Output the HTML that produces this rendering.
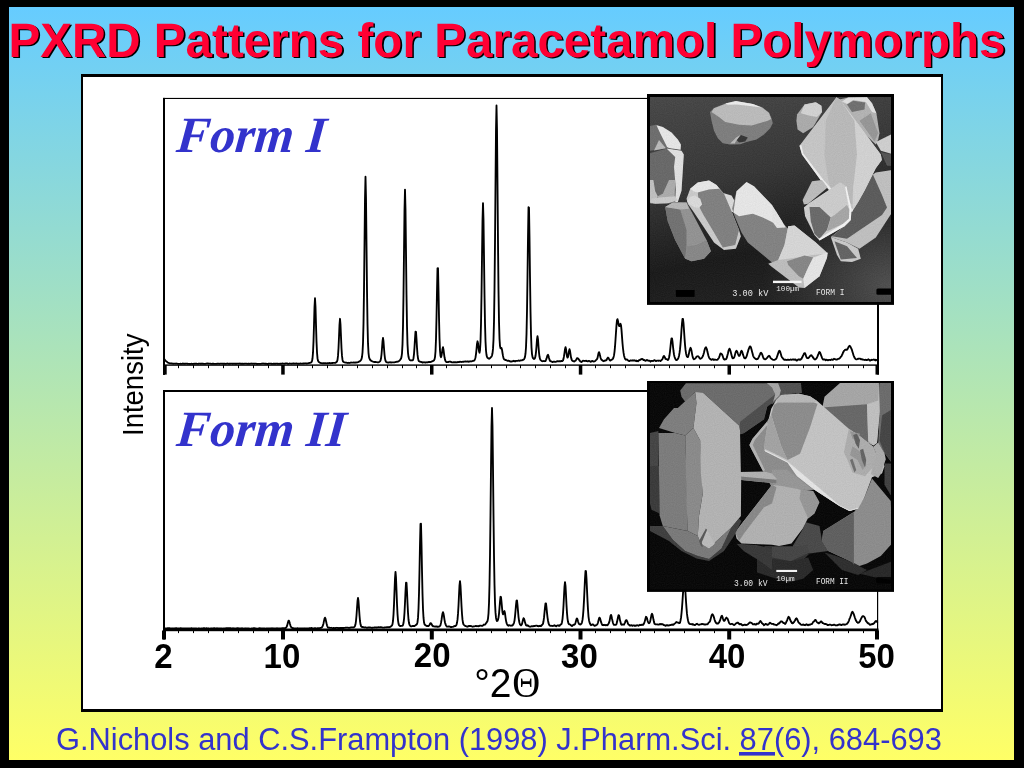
<!DOCTYPE html>
<html lang="en">
<head>
<meta charset="utf-8">
<title>PXRD Patterns for Paracetamol Polymorphs</title>
<style>
html,body{margin:0;padding:0;}
body{width:1024px;height:768px;background:#000;position:relative;overflow:hidden;font-family:"Liberation Sans",sans-serif;}
.slide{position:absolute;left:9px;top:7px;width:1005px;height:753px;background:linear-gradient(to bottom,#66ccff 0%,#ffff66 100%);}
h1{position:absolute;left:8.4px;top:16.6px;margin:0;font:bold 47.6px/1 "Liberation Sans",sans-serif;transform:scaleY(1.015);text-rendering:geometricPrecision;color:#ff0033;text-shadow:1.6px 1.6px 0 #000;white-space:nowrap;transform-origin:0 0;}
.box{position:absolute;left:81px;top:74px;width:862px;height:638px;box-sizing:border-box;border:solid #000;border-width:3px 2px;background:#fff;}
svg.chart{position:absolute;left:0;top:0;}
.cite{position:absolute;left:56px;top:725px;margin:0;white-space:nowrap;font:30.83px/1 "Liberation Sans",sans-serif;color:#3333cc;}
.cite u{text-decoration:none;display:inline-block;padding:0 0.8px;margin:0 -0.8px;background:linear-gradient(#3333cc,#3333cc) no-repeat 0 27.1px / 100% 3.6px;}
</style>
</head>
<body>
<div class="slide"></div>
<h1 id="title">PXRD Patterns for Paracetamol Polymorphs</h1>
<div class="box"></div>
<svg class="chart" width="1024" height="768" viewBox="0 0 1024 768">
<defs>
<clipPath id="c1"><rect x="650" y="97" width="241" height="204.9"/></clipPath>
<filter id="soft" filterUnits="userSpaceOnUse" x="640" y="85" width="262" height="520" color-interpolation-filters="sRGB">
<feGaussianBlur in="SourceGraphic" stdDeviation="0.6" result="b"/>
<feTurbulence type="fractalNoise" baseFrequency="0.9" numOctaves="1" seed="11" result="t"/>
<feColorMatrix in="t" type="matrix" values="1 0 0 0 0  1 0 0 0 0  1 0 0 0 0  0 0 0 0 1" result="tg"/>
<feComposite in="b" in2="tg" operator="arithmetic" k1="0" k2="1" k3="0.07" k4="-0.035"/>
</filter>
<clipPath id="c2"><rect x="650" y="383" width="241" height="206.4"/></clipPath>
</defs>
<g fill="#000">
<!-- plot 1 frame -->
<rect x="163" y="97.9" width="2" height="277"/>
<rect x="163" y="97.9" width="486" height="1.1"/>
<rect x="877" y="300" width="2" height="74.5"/>
<rect x="163" y="364.4" width="716" height="1.4"/>
<rect x="163.2" y="365.0" width="3.5" height="9.6"/>
<rect x="178.0" y="365.0" width="1.0" height="3.2"/>
<rect x="193.0" y="365.0" width="1.0" height="3.2"/>
<rect x="208.0" y="365.0" width="1.0" height="3.2"/>
<rect x="223.0" y="365.0" width="1.0" height="3.2"/>
<rect x="238.0" y="365.0" width="1.0" height="3.2"/>
<rect x="253.0" y="365.0" width="1.0" height="3.2"/>
<rect x="268.0" y="365.0" width="1.0" height="3.2"/>
<rect x="281.2" y="365.0" width="3.5" height="9.6"/>
<rect x="297.0" y="365.0" width="1.0" height="3.2"/>
<rect x="312.0" y="365.0" width="1.0" height="3.2"/>
<rect x="327.0" y="365.0" width="1.0" height="3.2"/>
<rect x="342.0" y="365.0" width="1.0" height="3.2"/>
<rect x="357.0" y="365.0" width="1.0" height="3.2"/>
<rect x="372.0" y="365.0" width="1.0" height="3.2"/>
<rect x="387.0" y="365.0" width="1.0" height="3.2"/>
<rect x="402.0" y="365.0" width="1.0" height="3.2"/>
<rect x="416.0" y="365.0" width="1.0" height="3.2"/>
<rect x="430.0" y="365.0" width="3.5" height="9.6"/>
<rect x="446.0" y="365.0" width="1.0" height="3.2"/>
<rect x="461.0" y="365.0" width="1.0" height="3.2"/>
<rect x="476.0" y="365.0" width="1.0" height="3.2"/>
<rect x="491.0" y="365.0" width="1.0" height="3.2"/>
<rect x="506.0" y="365.0" width="1.0" height="3.2"/>
<rect x="520.0" y="365.0" width="1.0" height="3.2"/>
<rect x="535.0" y="365.0" width="1.0" height="3.2"/>
<rect x="550.0" y="365.0" width="1.0" height="3.2"/>
<rect x="565.0" y="365.0" width="1.0" height="3.2"/>
<rect x="578.8" y="365.0" width="3.5" height="9.6"/>
<rect x="595.0" y="365.0" width="1.0" height="3.2"/>
<rect x="610.0" y="365.0" width="1.0" height="3.2"/>
<rect x="625.0" y="365.0" width="1.0" height="3.2"/>
<rect x="640.0" y="365.0" width="1.0" height="3.2"/>
<rect x="654.0" y="365.0" width="1.0" height="3.2"/>
<rect x="669.0" y="365.0" width="1.0" height="3.2"/>
<rect x="684.0" y="365.0" width="1.0" height="3.2"/>
<rect x="699.0" y="365.0" width="1.0" height="3.2"/>
<rect x="714.0" y="365.0" width="1.0" height="3.2"/>
<rect x="727.5" y="365.0" width="3.5" height="9.6"/>
<rect x="744.0" y="365.0" width="1.0" height="3.2"/>
<rect x="758.0" y="365.0" width="1.0" height="3.2"/>
<rect x="773.0" y="365.0" width="1.0" height="3.2"/>
<rect x="788.0" y="365.0" width="1.0" height="3.2"/>
<rect x="803.0" y="365.0" width="1.0" height="3.2"/>
<rect x="818.0" y="365.0" width="1.0" height="3.2"/>
<rect x="833.0" y="365.0" width="1.0" height="3.2"/>
<rect x="848.0" y="365.0" width="1.0" height="3.2"/>
<rect x="863.0" y="365.0" width="1.0" height="3.2"/>
<rect x="875.5" y="365.0" width="3.5" height="9.6"/>
<!-- plot 2 frame -->
<rect x="163" y="390" width="2" height="249.5"/>
<rect x="163" y="390" width="486" height="2"/>
<rect x="877" y="590" width="1.2" height="49"/>
<rect x="163" y="628.5" width="715.5" height="2.7"/>
<rect x="162.0" y="630.5" width="4.0" height="9.0"/>
<rect x="178.0" y="630.5" width="1.0" height="2.6"/>
<rect x="193.0" y="630.5" width="1.0" height="2.6"/>
<rect x="208.0" y="630.5" width="1.0" height="2.6"/>
<rect x="223.0" y="630.5" width="1.0" height="2.6"/>
<rect x="238.0" y="630.5" width="1.0" height="2.6"/>
<rect x="253.0" y="630.5" width="1.0" height="2.6"/>
<rect x="268.0" y="630.5" width="1.0" height="2.6"/>
<rect x="281.0" y="630.5" width="4.0" height="9.0"/>
<rect x="297.0" y="630.5" width="1.0" height="2.6"/>
<rect x="312.0" y="630.5" width="1.0" height="2.6"/>
<rect x="327.0" y="630.5" width="1.0" height="2.6"/>
<rect x="342.0" y="630.5" width="1.0" height="2.6"/>
<rect x="357.0" y="630.5" width="1.0" height="2.6"/>
<rect x="372.0" y="630.5" width="1.0" height="2.6"/>
<rect x="387.0" y="630.5" width="1.0" height="2.6"/>
<rect x="402.0" y="630.5" width="1.0" height="2.6"/>
<rect x="416.0" y="630.5" width="1.0" height="2.6"/>
<rect x="429.8" y="630.5" width="4.0" height="9.0"/>
<rect x="446.0" y="630.5" width="1.0" height="2.6"/>
<rect x="461.0" y="630.5" width="1.0" height="2.6"/>
<rect x="476.0" y="630.5" width="1.0" height="2.6"/>
<rect x="491.0" y="630.5" width="1.0" height="2.6"/>
<rect x="506.0" y="630.5" width="1.0" height="2.6"/>
<rect x="520.0" y="630.5" width="1.0" height="2.6"/>
<rect x="535.0" y="630.5" width="1.0" height="2.6"/>
<rect x="550.0" y="630.5" width="1.0" height="2.6"/>
<rect x="565.0" y="630.5" width="1.0" height="2.6"/>
<rect x="578.5" y="630.5" width="4.0" height="9.0"/>
<rect x="595.0" y="630.5" width="1.0" height="2.6"/>
<rect x="610.0" y="630.5" width="1.0" height="2.6"/>
<rect x="625.0" y="630.5" width="1.0" height="2.6"/>
<rect x="640.0" y="630.5" width="1.0" height="2.6"/>
<rect x="654.0" y="630.5" width="1.0" height="2.6"/>
<rect x="669.0" y="630.5" width="1.0" height="2.6"/>
<rect x="684.0" y="630.5" width="1.0" height="2.6"/>
<rect x="699.0" y="630.5" width="1.0" height="2.6"/>
<rect x="714.0" y="630.5" width="1.0" height="2.6"/>
<rect x="727.2" y="630.5" width="4.0" height="9.0"/>
<rect x="744.0" y="630.5" width="1.0" height="2.6"/>
<rect x="758.0" y="630.5" width="1.0" height="2.6"/>
<rect x="773.0" y="630.5" width="1.0" height="2.6"/>
<rect x="788.0" y="630.5" width="1.0" height="2.6"/>
<rect x="803.0" y="630.5" width="1.0" height="2.6"/>
<rect x="818.0" y="630.5" width="1.0" height="2.6"/>
<rect x="833.0" y="630.5" width="1.0" height="2.6"/>
<rect x="848.0" y="630.5" width="1.0" height="2.6"/>
<rect x="863.0" y="630.5" width="1.0" height="2.6"/>
<rect x="875.0" y="630.5" width="4.0" height="9.0"/>
</g>
<path d="M164.5 359.1 L165.0 360.0 L165.5 360.7 L166.0 361.2 L166.5 361.5 L167.0 361.9 L167.5 362.3 L168.0 362.6 L168.5 362.8 L169.0 363.0 L169.5 363.3 L170.0 363.3 L170.5 363.4 L171.0 363.3 L171.5 363.4 L172.0 363.5 L172.5 363.6 L173.0 363.7 L173.5 363.7 L174.0 363.6 L174.5 363.6 L175.0 363.6 L175.5 363.7 L176.0 363.5 L176.5 363.6 L177.0 363.6 L177.5 363.8 L178.0 363.8 L178.5 363.9 L179.0 363.9 L179.5 363.8 L180.0 363.8 L180.5 363.7 L181.0 363.8 L181.5 363.9 L182.0 363.8 L182.5 363.6 L183.0 363.5 L183.5 363.7 L184.0 363.7 L184.5 363.8 L185.0 363.7 L185.5 363.7 L186.0 363.6 L186.5 363.6 L187.0 363.7 L187.5 363.7 L188.0 363.8 L188.5 363.8 L189.0 363.9 L189.5 363.9 L190.0 364.0 L190.5 363.9 L191.0 363.8 L191.5 363.7 L192.0 363.8 L192.5 364.0 L193.0 363.9 L193.5 363.8 L194.0 363.7 L194.5 363.8 L195.0 363.7 L195.5 363.7 L196.0 363.6 L196.5 363.6 L197.0 363.8 L197.5 363.8 L198.0 363.8 L198.5 363.7 L199.0 363.7 L199.5 363.6 L200.0 363.6 L200.5 363.8 L201.0 363.7 L201.5 363.7 L202.0 363.5 L202.5 363.7 L203.0 363.6 L203.5 363.8 L204.0 363.8 L204.5 363.9 L205.0 363.9 L205.5 363.8 L206.0 363.7 L206.5 363.6 L207.0 363.5 L207.5 363.6 L208.0 363.5 L208.5 363.6 L209.0 363.6 L209.5 363.6 L210.0 363.6 L210.5 363.6 L211.0 363.8 L211.5 363.8 L212.0 363.9 L212.5 363.7 L213.0 363.7 L213.5 363.7 L214.0 363.8 L214.5 363.8 L215.0 363.8 L215.5 363.8 L216.0 363.8 L216.5 363.8 L217.0 363.7 L217.5 363.7 L218.0 363.6 L218.5 363.7 L219.0 363.8 L219.5 363.8 L220.0 363.6 L220.5 363.6 L221.0 363.6 L221.5 363.6 L222.0 363.6 L222.5 363.7 L223.0 363.7 L223.5 363.7 L224.0 363.6 L224.5 363.8 L225.0 363.7 L225.5 363.8 L226.0 363.8 L226.5 363.7 L227.0 363.6 L227.5 363.5 L228.0 363.7 L228.5 363.8 L229.0 363.7 L229.5 363.7 L230.0 363.7 L230.5 363.7 L231.0 363.6 L231.5 363.6 L232.0 363.7 L232.5 363.7 L233.0 363.7 L233.5 363.7 L234.0 363.6 L234.5 363.7 L235.0 363.7 L235.5 363.7 L236.0 363.7 L236.5 363.7 L237.0 363.7 L237.5 363.6 L238.0 363.6 L238.5 363.7 L239.0 363.6 L239.5 363.6 L240.0 363.5 L240.5 363.7 L241.0 363.7 L241.5 363.8 L242.0 363.7 L242.5 363.7 L243.0 363.6 L243.5 363.8 L244.0 363.8 L244.5 363.7 L245.0 363.6 L245.5 363.6 L246.0 363.6 L246.5 363.7 L247.0 363.8 L247.5 363.8 L248.0 363.7 L248.5 363.7 L249.0 363.7 L249.5 363.9 L250.0 363.8 L250.5 363.7 L251.0 363.5 L251.5 363.6 L252.0 363.7 L252.5 363.7 L253.0 363.6 L253.5 363.6 L254.0 363.6 L254.5 363.8 L255.0 363.7 L255.5 363.6 L256.0 363.6 L256.5 363.8 L257.0 364.0 L257.5 363.9 L258.0 363.9 L258.5 363.9 L259.0 363.8 L259.5 363.8 L260.0 363.8 L260.5 363.9 L261.0 363.8 L261.5 363.7 L262.0 363.6 L262.5 363.6 L263.0 363.5 L263.5 363.6 L264.0 363.6 L264.5 363.7 L265.0 363.6 L265.5 363.8 L266.0 363.7 L266.5 363.9 L267.0 363.9 L267.5 364.0 L268.0 363.9 L268.5 363.7 L269.0 363.7 L269.5 363.6 L270.0 363.6 L270.5 363.6 L271.0 363.7 L271.5 363.7 L272.0 363.8 L272.5 363.8 L273.0 363.8 L273.5 363.6 L274.0 363.7 L274.5 363.7 L275.0 363.8 L275.5 363.7 L276.0 363.7 L276.5 363.6 L277.0 363.7 L277.5 363.7 L278.0 363.7 L278.5 363.8 L279.0 363.9 L279.5 363.9 L280.0 363.7 L280.5 363.7 L281.0 363.7 L281.5 363.7 L282.0 363.6 L282.5 363.5 L283.0 363.6 L283.5 363.6 L284.0 363.7 L284.5 363.7 L285.0 363.6 L285.5 363.5 L286.0 363.4 L286.5 363.4 L287.0 363.4 L287.5 363.6 L288.0 363.8 L288.5 363.8 L289.0 363.7 L289.5 363.5 L290.0 363.6 L290.5 363.6 L291.0 363.6 L291.5 363.7 L292.0 363.7 L292.5 363.6 L293.0 363.5 L293.5 363.5 L294.0 363.5 L294.5 363.6 L295.0 363.7 L295.5 363.6 L296.0 363.5 L296.5 363.5 L297.0 363.6 L297.5 363.7 L298.0 363.7 L298.5 363.7 L299.0 363.7 L299.5 363.7 L300.0 363.6 L300.5 363.5 L301.0 363.6 L301.5 363.6 L302.0 363.6 L302.5 363.6 L303.0 363.5 L303.5 363.4 L304.0 363.5 L304.5 363.4 L305.0 363.4 L305.5 363.3 L306.0 363.4 L306.5 363.5 L307.0 363.5 L307.5 363.4 L308.0 363.3 L308.5 363.2 L309.0 363.1 L309.5 362.8 L310.0 362.8 L310.5 362.6 L311.0 362.5 L311.5 362.1 L312.0 361.1 L312.5 358.5 L313.0 352.7 L313.5 341.6 L314.0 325.0 L314.5 307.0 L315.0 298.2 L315.5 307.1 L316.0 324.9 L316.5 341.4 L317.0 352.3 L317.5 358.2 L318.0 360.7 L318.5 361.7 L319.0 362.2 L319.5 362.4 L320.0 362.8 L320.5 362.9 L321.0 363.1 L321.5 363.2 L322.0 363.3 L322.5 363.3 L323.0 363.1 L323.5 363.2 L324.0 363.2 L324.5 363.3 L325.0 363.2 L325.5 363.2 L326.0 363.3 L326.5 363.3 L327.0 363.2 L327.5 363.1 L328.0 363.3 L328.5 363.2 L329.0 363.1 L329.5 363.0 L330.0 363.1 L330.5 363.2 L331.0 363.2 L331.5 363.1 L332.0 363.0 L332.5 363.0 L333.0 362.9 L333.5 362.8 L334.0 362.8 L334.5 362.9 L335.0 362.8 L335.5 362.8 L336.0 362.4 L336.5 362.1 L337.0 361.5 L337.5 359.9 L338.0 355.9 L338.5 348.3 L339.0 337.0 L339.5 324.9 L340.0 318.8 L340.5 324.7 L341.0 336.8 L341.5 348.3 L342.0 355.9 L342.5 359.7 L343.0 361.4 L343.5 362.0 L344.0 362.2 L344.5 362.3 L345.0 362.5 L345.5 362.6 L346.0 362.6 L346.5 362.7 L347.0 362.9 L347.5 362.9 L348.0 363.0 L348.5 362.8 L349.0 363.0 L349.5 362.9 L350.0 362.9 L350.5 362.7 L351.0 362.5 L351.5 362.6 L352.0 362.6 L352.5 362.6 L353.0 362.6 L353.5 362.5 L354.0 362.6 L354.5 362.5 L355.0 362.7 L355.5 362.5 L356.0 362.6 L356.5 362.3 L357.0 362.3 L357.5 362.3 L358.0 362.2 L358.5 361.9 L359.0 361.6 L359.5 361.4 L360.0 361.1 L360.5 360.6 L361.0 360.0 L361.5 359.0 L362.0 357.0 L362.5 352.6 L363.0 343.1 L363.5 323.7 L364.0 290.5 L364.5 245.0 L365.0 198.7 L365.5 176.7 L366.0 198.3 L366.5 244.4 L367.0 290.1 L367.5 323.6 L368.0 343.4 L368.5 352.8 L369.0 357.0 L369.5 358.7 L370.0 359.7 L370.5 360.3 L371.0 360.7 L371.5 360.9 L372.0 361.2 L372.5 361.5 L373.0 361.7 L373.5 361.8 L374.0 362.0 L374.5 362.0 L375.0 362.0 L375.5 362.0 L376.0 362.1 L376.5 362.1 L377.0 362.2 L377.5 362.3 L378.0 362.4 L378.5 362.3 L379.0 362.0 L379.5 361.8 L380.0 361.4 L380.5 360.5 L381.0 358.6 L381.5 354.5 L382.0 348.2 L382.5 341.5 L383.0 338.0 L383.5 341.5 L384.0 348.2 L384.5 354.5 L385.0 358.6 L385.5 360.7 L386.0 361.8 L386.5 362.1 L387.0 362.3 L387.5 362.4 L388.0 362.6 L388.5 362.6 L389.0 362.3 L389.5 362.3 L390.0 362.2 L390.5 362.4 L391.0 362.5 L391.5 362.5 L392.0 362.3 L392.5 362.3 L393.0 362.3 L393.5 362.3 L394.0 362.3 L394.5 362.3 L395.0 362.2 L395.5 362.1 L396.0 361.9 L396.5 361.9 L397.0 361.7 L397.5 361.7 L398.0 361.6 L398.5 361.4 L399.0 361.0 L399.5 360.6 L400.0 360.1 L400.5 359.3 L401.0 358.6 L401.5 357.0 L402.0 353.3 L402.5 344.4 L403.0 326.1 L403.5 295.0 L404.0 252.6 L404.5 209.9 L405.0 189.6 L405.5 209.8 L406.0 252.5 L406.5 295.0 L407.0 325.9 L407.5 344.1 L408.0 352.8 L408.5 356.8 L409.0 358.6 L409.5 359.5 L410.0 360.1 L410.5 360.3 L411.0 360.5 L411.5 360.3 L412.0 360.4 L412.5 360.4 L413.0 360.0 L413.5 358.2 L414.0 354.1 L414.5 347.2 L415.0 338.7 L415.5 331.6 L416.0 331.8 L416.5 339.1 L417.0 347.7 L417.5 354.4 L418.0 358.3 L418.5 360.4 L419.0 361.2 L419.5 361.5 L420.0 361.6 L420.5 361.8 L421.0 361.8 L421.5 362.1 L422.0 362.2 L422.5 362.6 L423.0 362.4 L423.5 362.3 L424.0 362.2 L424.5 362.3 L425.0 362.5 L425.5 362.5 L426.0 362.4 L426.5 362.3 L427.0 362.2 L427.5 362.3 L428.0 362.3 L428.5 362.0 L429.0 362.1 L429.5 362.0 L430.0 362.1 L430.5 362.0 L431.0 361.8 L431.5 361.6 L432.0 361.4 L432.5 361.1 L433.0 361.0 L433.5 360.7 L434.0 360.3 L434.5 359.4 L435.0 357.1 L435.5 351.5 L436.0 339.1 L436.5 318.1 L437.0 290.9 L437.5 268.3 L438.0 268.1 L438.5 290.4 L439.0 317.5 L439.5 338.3 L440.0 350.6 L440.5 356.0 L441.0 357.2 L441.5 355.7 L442.0 352.6 L442.5 349.0 L443.0 347.2 L443.5 349.6 L444.0 353.6 L444.5 357.3 L445.0 359.6 L445.5 361.0 L446.0 361.7 L446.5 362.1 L447.0 362.1 L447.5 362.1 L448.0 362.0 L448.5 362.0 L449.0 361.7 L449.5 361.6 L450.0 361.7 L450.5 361.7 L451.0 361.9 L451.5 362.1 L452.0 362.3 L452.5 362.3 L453.0 362.3 L453.5 362.2 L454.0 362.2 L454.5 362.2 L455.0 362.3 L455.5 362.2 L456.0 362.2 L456.5 362.3 L457.0 362.3 L457.5 362.1 L458.0 362.0 L458.5 362.1 L459.0 362.1 L459.5 361.8 L460.0 361.7 L460.5 361.9 L461.0 361.9 L461.5 362.0 L462.0 361.8 L462.5 361.8 L463.0 361.6 L463.5 361.7 L464.0 361.7 L464.5 361.6 L465.0 361.5 L465.5 361.4 L466.0 361.6 L466.5 361.6 L467.0 361.5 L467.5 361.4 L468.0 361.5 L468.5 361.8 L469.0 361.6 L469.5 361.5 L470.0 361.4 L470.5 361.3 L471.0 361.5 L471.5 361.3 L472.0 361.3 L472.5 361.0 L473.0 360.8 L473.5 360.9 L474.0 360.6 L474.5 360.2 L475.0 359.1 L475.5 357.4 L476.0 354.1 L476.5 349.4 L477.0 343.9 L477.5 341.3 L478.0 343.2 L478.5 347.7 L479.0 351.2 L479.5 352.7 L480.0 350.2 L480.5 341.7 L481.0 323.9 L481.5 295.2 L482.0 257.6 L482.5 220.5 L483.0 203.1 L483.5 219.8 L484.0 256.8 L484.5 294.7 L485.0 323.5 L485.5 341.2 L486.0 350.5 L486.5 355.0 L487.0 356.9 L487.5 357.8 L488.0 358.1 L488.5 358.5 L489.0 358.5 L489.5 358.7 L490.0 358.2 L490.5 357.6 L491.0 357.0 L491.5 356.7 L492.0 355.5 L492.5 353.3 L493.0 348.9 L493.5 339.8 L494.0 321.7 L494.5 289.6 L495.0 242.5 L495.5 184.5 L496.0 129.8 L496.5 105.5 L497.0 129.7 L497.5 184.6 L498.0 242.8 L498.5 290.2 L499.0 321.4 L499.5 338.8 L500.0 346.1 L500.5 348.3 L501.0 348.0 L501.5 348.0 L502.0 349.7 L502.5 353.0 L503.0 355.9 L503.5 358.1 L504.0 359.1 L504.5 359.6 L505.0 359.7 L505.5 360.1 L506.0 360.0 L506.5 360.3 L507.0 360.5 L507.5 360.9 L508.0 360.8 L508.5 360.6 L509.0 360.8 L509.5 361.1 L510.0 361.4 L510.5 361.5 L511.0 361.4 L511.5 361.5 L512.0 361.4 L512.5 361.4 L513.0 361.1 L513.5 360.8 L514.0 360.9 L514.5 361.2 L515.0 361.2 L515.5 361.2 L516.0 360.8 L516.5 360.8 L517.0 360.8 L517.5 360.8 L518.0 360.8 L518.5 360.5 L519.0 360.6 L519.5 360.8 L520.0 360.7 L520.5 360.4 L521.0 360.4 L521.5 360.4 L522.0 360.4 L522.5 359.9 L523.0 359.9 L523.5 359.6 L524.0 359.3 L524.5 358.4 L525.0 356.9 L525.5 353.7 L526.0 347.2 L526.5 334.4 L527.0 311.1 L527.5 276.9 L528.0 237.4 L528.5 207.2 L529.0 207.6 L529.5 237.4 L530.0 277.1 L530.5 310.9 L531.0 334.5 L531.5 347.6 L532.0 354.1 L532.5 356.9 L533.0 358.2 L533.5 358.7 L534.0 359.0 L534.5 358.7 L535.0 357.9 L535.5 356.1 L536.0 352.1 L536.5 346.3 L537.0 339.4 L537.5 336.1 L538.0 339.3 L538.5 346.5 L539.0 352.6 L539.5 356.8 L540.0 358.9 L540.5 359.9 L541.0 360.4 L541.5 360.8 L542.0 361.1 L542.5 361.2 L543.0 361.2 L543.5 361.1 L544.0 361.0 L544.5 361.2 L545.0 361.1 L545.5 361.0 L546.0 359.9 L546.5 358.7 L547.0 356.9 L547.5 355.4 L548.0 354.8 L548.5 356.1 L549.0 358.0 L549.5 359.7 L550.0 360.9 L550.5 361.2 L551.0 361.4 L551.5 361.5 L552.0 361.8 L552.5 362.1 L553.0 361.9 L553.5 361.8 L554.0 361.5 L554.5 361.8 L555.0 361.9 L555.5 361.8 L556.0 361.8 L556.5 361.4 L557.0 361.3 L557.5 361.1 L558.0 361.2 L558.5 361.4 L559.0 361.4 L559.5 361.2 L560.0 361.3 L560.5 361.1 L561.0 361.2 L561.5 360.9 L562.0 361.1 L562.5 361.0 L563.0 360.4 L563.5 358.8 L564.0 356.2 L564.5 352.8 L565.0 349.1 L565.5 347.1 L566.0 349.0 L566.5 352.8 L567.0 356.3 L567.5 357.6 L568.0 357.0 L568.5 354.2 L569.0 351.0 L569.5 349.2 L570.0 350.8 L570.5 354.2 L571.0 357.3 L571.5 359.2 L572.0 360.5 L572.5 360.8 L573.0 361.1 L573.5 361.2 L574.0 361.5 L574.5 361.4 L575.0 360.9 L575.5 360.7 L576.0 360.0 L576.5 359.1 L577.0 358.2 L577.5 358.1 L578.0 358.5 L578.5 359.0 L579.0 359.6 L579.5 360.5 L580.0 361.0 L580.5 361.6 L581.0 361.7 L581.5 362.0 L582.0 361.5 L582.5 361.1 L583.0 360.6 L583.5 360.8 L584.0 360.9 L584.5 360.9 L585.0 361.0 L585.5 360.8 L586.0 361.0 L586.5 360.8 L587.0 361.2 L587.5 361.3 L588.0 361.3 L588.5 360.8 L589.0 360.8 L589.5 361.0 L590.0 361.4 L590.5 361.7 L591.0 361.7 L591.5 361.5 L592.0 361.0 L592.5 361.0 L593.0 361.3 L593.5 361.5 L594.0 361.5 L594.5 361.3 L595.0 361.1 L595.5 360.6 L596.0 360.0 L596.5 359.7 L597.0 359.1 L597.5 358.0 L598.0 355.6 L598.5 353.1 L599.0 352.1 L599.5 353.3 L600.0 355.6 L600.5 357.5 L601.0 359.0 L601.5 359.8 L602.0 360.1 L602.5 360.4 L603.0 361.0 L603.5 361.2 L604.0 361.1 L604.5 360.7 L605.0 360.5 L605.5 360.6 L606.0 360.3 L606.5 360.1 L607.0 359.0 L607.5 358.2 L608.0 357.6 L608.5 358.0 L609.0 358.9 L609.5 359.7 L610.0 360.5 L610.5 360.5 L611.0 360.1 L611.5 359.8 L612.0 359.5 L612.5 359.4 L613.0 358.5 L613.5 357.4 L614.0 355.4 L614.5 351.8 L615.0 346.7 L615.5 339.7 L616.0 332.3 L616.5 325.1 L617.0 320.2 L617.5 319.2 L618.0 321.0 L618.5 324.2 L619.0 325.9 L619.5 326.1 L620.0 324.7 L620.5 323.8 L621.0 325.2 L621.5 329.9 L622.0 336.6 L622.5 343.2 L623.0 348.5 L623.5 352.4 L624.0 355.4 L624.5 357.2 L625.0 358.7 L625.5 359.3 L626.0 359.7 L626.5 359.4 L627.0 359.5 L627.5 359.8 L628.0 360.3 L628.5 360.8 L629.0 361.0 L629.5 361.0 L630.0 360.6 L630.5 360.4 L631.0 360.5 L631.5 360.6 L632.0 360.6 L632.5 360.3 L633.0 360.4 L633.5 360.6 L634.0 360.4 L634.5 360.3 L635.0 360.6 L635.5 360.7 L636.0 361.1 L636.5 360.6 L637.0 361.2 L637.5 361.0 L638.0 361.3 L638.5 360.7 L639.0 360.2 L639.5 360.2 L640.0 359.9 L640.5 359.6 L641.0 359.2 L641.5 359.2 L642.0 358.9 L642.5 359.2 L643.0 359.4 L643.5 360.1 L644.0 359.9 L644.5 360.1 L645.0 360.6 L645.5 360.8 L646.0 360.7 L646.5 360.1 L647.0 360.0 L647.5 360.2 L648.0 360.7 L648.5 360.7 L649.0 360.6 L649.5 360.6 L650.0 361.2 L650.5 361.7 L651.0 361.2 L651.5 360.8 L652.0 360.8 L652.5 360.9 L653.0 361.1 L653.5 360.7 L654.0 360.4 L654.5 360.2 L655.0 360.4 L655.5 360.9 L656.0 361.1 L656.5 360.9 L657.0 360.7 L657.5 360.6 L658.0 360.6 L658.5 360.8 L659.0 360.6 L659.5 360.6 L660.0 360.6 L660.5 361.0 L661.0 360.5 L661.5 360.2 L662.0 359.7 L662.5 359.0 L663.0 357.6 L663.5 356.4 L664.0 355.9 L664.5 356.7 L665.0 357.6 L665.5 358.9 L666.0 359.0 L666.5 359.2 L667.0 359.4 L667.5 359.8 L668.0 360.1 L668.5 359.3 L669.0 357.8 L669.5 355.3 L670.0 351.3 L670.5 346.7 L671.0 341.7 L671.5 338.3 L672.0 338.3 L672.5 341.6 L673.0 346.6 L673.5 351.0 L674.0 354.5 L674.5 356.7 L675.0 358.2 L675.5 359.2 L676.0 359.9 L676.5 360.1 L677.0 359.9 L677.5 359.2 L678.0 358.8 L678.5 357.6 L679.0 355.9 L679.5 353.0 L680.0 349.4 L680.5 344.2 L681.0 337.6 L681.5 329.9 L682.0 323.4 L682.5 318.9 L683.0 319.0 L683.5 323.1 L684.0 330.2 L684.5 337.9 L685.0 344.6 L685.5 349.7 L686.0 353.2 L686.5 355.3 L687.0 356.6 L687.5 357.0 L688.0 357.0 L688.5 355.3 L689.0 353.3 L689.5 350.6 L690.0 349.0 L690.5 347.8 L691.0 348.7 L691.5 350.7 L692.0 353.6 L692.5 356.0 L693.0 357.9 L693.5 358.8 L694.0 359.3 L694.5 359.0 L695.0 358.7 L695.5 358.2 L696.0 357.6 L696.5 356.8 L697.0 356.4 L697.5 356.3 L698.0 356.2 L698.5 356.5 L699.0 357.2 L699.5 358.2 L700.0 358.7 L700.5 358.7 L701.0 358.4 L701.5 358.2 L702.0 357.5 L702.5 356.7 L703.0 355.8 L703.5 354.3 L704.0 352.5 L704.5 350.3 L705.0 348.6 L705.5 347.6 L706.0 347.3 L706.5 348.4 L707.0 349.7 L707.5 352.1 L708.0 354.0 L708.5 356.0 L709.0 357.4 L709.5 358.3 L710.0 358.8 L710.5 359.2 L711.0 359.7 L711.5 359.8 L712.0 359.3 L712.5 359.2 L713.0 359.2 L713.5 359.8 L714.0 359.7 L714.5 359.8 L715.0 359.5 L715.5 359.7 L716.0 359.8 L716.5 359.9 L717.0 359.9 L717.5 359.7 L718.0 358.9 L718.5 358.5 L719.0 357.6 L719.5 356.4 L720.0 354.6 L720.5 353.5 L721.0 353.6 L721.5 353.8 L722.0 354.5 L722.5 355.5 L723.0 357.0 L723.5 358.5 L724.0 359.3 L724.5 359.6 L725.0 359.4 L725.5 359.2 L726.0 359.2 L726.5 358.4 L727.0 357.1 L727.5 355.0 L728.0 353.3 L728.5 350.8 L729.0 349.5 L729.5 348.6 L730.0 349.7 L730.5 351.0 L731.0 353.0 L731.5 354.9 L732.0 356.9 L732.5 358.1 L733.0 358.3 L733.5 358.2 L734.0 357.6 L734.5 356.6 L735.0 354.6 L735.5 352.6 L736.0 351.4 L736.5 350.8 L737.0 351.4 L737.5 352.5 L738.0 354.0 L738.5 355.2 L739.0 355.8 L739.5 355.9 L740.0 354.9 L740.5 353.2 L741.0 351.5 L741.5 350.8 L742.0 351.4 L742.5 352.8 L743.0 354.7 L743.5 356.0 L744.0 357.5 L744.5 358.2 L745.0 358.4 L745.5 358.3 L746.0 357.4 L746.5 356.6 L747.0 354.9 L747.5 353.1 L748.0 351.4 L748.5 349.6 L749.0 348.3 L749.5 347.1 L750.0 346.4 L750.5 346.6 L751.0 347.7 L751.5 349.6 L752.0 351.5 L752.5 353.3 L753.0 355.3 L753.5 356.6 L754.0 357.5 L754.5 357.8 L755.0 358.4 L755.5 358.9 L756.0 359.1 L756.5 359.3 L757.0 359.0 L757.5 359.0 L758.0 358.5 L758.5 357.7 L759.0 356.7 L759.5 355.4 L760.0 354.3 L760.5 353.1 L761.0 352.8 L761.5 353.2 L762.0 354.0 L762.5 355.4 L763.0 356.9 L763.5 358.2 L764.0 358.8 L764.5 358.8 L765.0 359.3 L765.5 359.3 L766.0 359.0 L766.5 358.4 L767.0 358.0 L767.5 357.3 L768.0 356.7 L768.5 356.0 L769.0 355.8 L769.5 356.1 L770.0 356.8 L770.5 357.9 L771.0 358.5 L771.5 358.8 L772.0 359.1 L772.5 359.5 L773.0 359.8 L773.5 359.9 L774.0 359.9 L774.5 359.8 L775.0 359.7 L775.5 359.2 L776.0 359.0 L776.5 358.2 L777.0 356.8 L777.5 355.4 L778.0 353.9 L778.5 352.4 L779.0 351.0 L779.5 350.7 L780.0 351.4 L780.5 352.9 L781.0 354.6 L781.5 356.4 L782.0 357.3 L782.5 357.8 L783.0 358.5 L783.5 359.2 L784.0 359.7 L784.5 359.7 L785.0 359.7 L785.5 359.7 L786.0 359.9 L786.5 359.9 L787.0 360.0 L787.5 359.6 L788.0 359.6 L788.5 359.6 L789.0 360.0 L789.5 359.8 L790.0 359.8 L790.5 359.5 L791.0 359.6 L791.5 359.8 L792.0 359.7 L792.5 359.5 L793.0 359.4 L793.5 359.5 L794.0 359.8 L794.5 359.6 L795.0 359.5 L795.5 359.5 L796.0 360.0 L796.5 360.5 L797.0 360.5 L797.5 360.1 L798.0 359.6 L798.5 359.4 L799.0 359.3 L799.5 359.8 L800.0 359.5 L800.5 359.8 L801.0 359.1 L801.5 358.8 L802.0 357.6 L802.5 356.9 L803.0 355.6 L803.5 354.7 L804.0 353.5 L804.5 353.1 L805.0 353.2 L805.5 354.4 L806.0 355.9 L806.5 357.2 L807.0 358.0 L807.5 358.0 L808.0 358.2 L808.5 357.9 L809.0 357.5 L809.5 356.7 L810.0 356.1 L810.5 355.5 L811.0 355.5 L811.5 355.2 L812.0 356.1 L812.5 356.5 L813.0 357.5 L813.5 358.0 L814.0 358.9 L814.5 359.3 L815.0 359.5 L815.5 359.3 L816.0 358.8 L816.5 358.4 L817.0 357.3 L817.5 356.3 L818.0 355.0 L818.5 353.9 L819.0 352.6 L819.5 351.9 L820.0 352.5 L820.5 353.6 L821.0 355.2 L821.5 356.3 L822.0 357.9 L822.5 358.8 L823.0 359.5 L823.5 359.6 L824.0 359.3 L824.5 359.3 L825.0 359.6 L825.5 360.3 L826.0 360.1 L826.5 359.7 L827.0 359.8 L827.5 360.1 L828.0 360.3 L828.5 360.2 L829.0 359.8 L829.5 359.8 L830.0 359.8 L830.5 360.1 L831.0 359.8 L831.5 359.5 L832.0 359.4 L832.5 359.9 L833.0 359.8 L833.5 359.4 L834.0 358.7 L834.5 359.1 L835.0 359.2 L835.5 359.4 L836.0 359.5 L836.5 359.6 L837.0 359.5 L837.5 359.3 L838.0 358.9 L838.5 358.8 L839.0 358.6 L839.5 358.5 L840.0 357.9 L840.5 357.2 L841.0 356.5 L841.5 356.3 L842.0 354.9 L842.5 354.1 L843.0 352.6 L843.5 351.9 L844.0 350.8 L844.5 350.4 L845.0 349.9 L845.5 349.7 L846.0 349.7 L846.5 349.9 L847.0 349.8 L847.5 349.1 L848.0 348.1 L848.5 347.1 L849.0 346.3 L849.5 345.8 L850.0 346.0 L850.5 346.8 L851.0 347.8 L851.5 348.9 L852.0 350.2 L852.5 351.9 L853.0 353.6 L853.5 355.3 L854.0 356.3 L854.5 357.6 L855.0 358.3 L855.5 359.0 L856.0 359.3 L856.5 359.4 L857.0 359.3 L857.5 359.0 L858.0 358.6 L858.5 358.7 L859.0 358.7 L859.5 358.6 L860.0 358.6 L860.5 358.8 L861.0 359.3 L861.5 359.2 L862.0 359.1 L862.5 359.5 L863.0 359.5 L863.5 359.7 L864.0 359.8 L864.5 359.9 L865.0 360.0 L865.5 359.7 L866.0 359.8 L866.5 360.1 L867.0 360.0 L867.5 359.9 L868.0 359.6 L868.5 359.3 L869.0 359.8 L869.5 360.1 L870.0 360.7 L870.5 360.2 L871.0 360.1 L871.5 359.7 L872.0 360.0 L872.5 359.8 L873.0 359.8 L873.5 359.5 L874.0 359.7 L874.5 359.6 L875.0 360.2 L875.5 359.8 L876.0 360.4 L876.5 359.9 L877.0 359.9 L877.5 359.7" fill="none" stroke="#000" stroke-width="1.85" stroke-linejoin="round"/>
<path d="M164.5 628.3 L165.0 628.3 L165.5 628.3 L166.0 628.3 L166.5 628.3 L167.0 628.3 L167.5 628.2 L168.0 628.3 L168.5 628.2 L169.0 628.2 L169.5 628.2 L170.0 628.4 L170.5 628.4 L171.0 628.3 L171.5 628.3 L172.0 628.5 L172.5 628.5 L173.0 628.5 L173.5 628.5 L174.0 628.4 L174.5 628.5 L175.0 628.3 L175.5 628.4 L176.0 628.2 L176.5 628.2 L177.0 628.3 L177.5 628.4 L178.0 628.4 L178.5 628.4 L179.0 628.4 L179.5 628.4 L180.0 628.3 L180.5 628.2 L181.0 628.2 L181.5 628.3 L182.0 628.4 L182.5 628.4 L183.0 628.4 L183.5 628.4 L184.0 628.4 L184.5 628.4 L185.0 628.5 L185.5 628.4 L186.0 628.4 L186.5 628.4 L187.0 628.5 L187.5 628.5 L188.0 628.5 L188.5 628.5 L189.0 628.4 L189.5 628.4 L190.0 628.4 L190.5 628.4 L191.0 628.4 L191.5 628.2 L192.0 628.3 L192.5 628.4 L193.0 628.5 L193.5 628.5 L194.0 628.5 L194.5 628.5 L195.0 628.4 L195.5 628.5 L196.0 628.4 L196.5 628.5 L197.0 628.6 L197.5 628.6 L198.0 628.5 L198.5 628.3 L199.0 628.4 L199.5 628.4 L200.0 628.6 L200.5 628.6 L201.0 628.5 L201.5 628.4 L202.0 628.4 L202.5 628.3 L203.0 628.3 L203.5 628.2 L204.0 628.2 L204.5 628.2 L205.0 628.3 L205.5 628.3 L206.0 628.3 L206.5 628.2 L207.0 628.4 L207.5 628.4 L208.0 628.4 L208.5 628.3 L209.0 628.5 L209.5 628.6 L210.0 628.6 L210.5 628.5 L211.0 628.4 L211.5 628.3 L212.0 628.4 L212.5 628.5 L213.0 628.5 L213.5 628.4 L214.0 628.2 L214.5 628.2 L215.0 628.3 L215.5 628.4 L216.0 628.4 L216.5 628.3 L217.0 628.2 L217.5 628.3 L218.0 628.4 L218.5 628.5 L219.0 628.5 L219.5 628.5 L220.0 628.5 L220.5 628.5 L221.0 628.4 L221.5 628.4 L222.0 628.4 L222.5 628.6 L223.0 628.6 L223.5 628.5 L224.0 628.4 L224.5 628.3 L225.0 628.3 L225.5 628.3 L226.0 628.2 L226.5 628.2 L227.0 628.2 L227.5 628.2 L228.0 628.2 L228.5 628.2 L229.0 628.1 L229.5 628.1 L230.0 628.2 L230.5 628.2 L231.0 628.4 L231.5 628.4 L232.0 628.4 L232.5 628.3 L233.0 628.2 L233.5 628.3 L234.0 628.3 L234.5 628.4 L235.0 628.5 L235.5 628.6 L236.0 628.5 L236.5 628.3 L237.0 628.2 L237.5 628.2 L238.0 628.2 L238.5 628.4 L239.0 628.3 L239.5 628.3 L240.0 628.3 L240.5 628.4 L241.0 628.4 L241.5 628.3 L242.0 628.2 L242.5 628.3 L243.0 628.4 L243.5 628.6 L244.0 628.6 L244.5 628.5 L245.0 628.4 L245.5 628.3 L246.0 628.4 L246.5 628.4 L247.0 628.5 L247.5 628.4 L248.0 628.4 L248.5 628.4 L249.0 628.5 L249.5 628.6 L250.0 628.6 L250.5 628.6 L251.0 628.6 L251.5 628.5 L252.0 628.4 L252.5 628.3 L253.0 628.3 L253.5 628.2 L254.0 628.2 L254.5 628.2 L255.0 628.3 L255.5 628.5 L256.0 628.5 L256.5 628.6 L257.0 628.6 L257.5 628.7 L258.0 628.6 L258.5 628.4 L259.0 628.3 L259.5 628.2 L260.0 628.2 L260.5 628.3 L261.0 628.4 L261.5 628.6 L262.0 628.5 L262.5 628.5 L263.0 628.5 L263.5 628.4 L264.0 628.4 L264.5 628.4 L265.0 628.6 L265.5 628.6 L266.0 628.5 L266.5 628.4 L267.0 628.4 L267.5 628.4 L268.0 628.5 L268.5 628.5 L269.0 628.5 L269.5 628.4 L270.0 628.4 L270.5 628.5 L271.0 628.5 L271.5 628.3 L272.0 628.2 L272.5 628.3 L273.0 628.5 L273.5 628.5 L274.0 628.4 L274.5 628.5 L275.0 628.6 L275.5 628.5 L276.0 628.4 L276.5 628.3 L277.0 628.2 L277.5 628.3 L278.0 628.4 L278.5 628.5 L279.0 628.5 L279.5 628.4 L280.0 628.5 L280.5 628.5 L281.0 628.4 L281.5 628.3 L282.0 628.2 L282.5 628.2 L283.0 628.2 L283.5 628.2 L284.0 628.2 L284.5 628.1 L285.0 628.1 L285.5 628.0 L286.0 627.7 L286.5 627.0 L287.0 626.0 L287.5 624.2 L288.0 622.3 L288.5 620.7 L289.0 620.7 L289.5 622.2 L290.0 624.1 L290.5 625.8 L291.0 626.9 L291.5 627.5 L292.0 627.9 L292.5 628.0 L293.0 628.2 L293.5 628.2 L294.0 628.3 L294.5 628.3 L295.0 628.3 L295.5 628.3 L296.0 628.4 L296.5 628.3 L297.0 628.3 L297.5 628.2 L298.0 628.3 L298.5 628.3 L299.0 628.4 L299.5 628.4 L300.0 628.4 L300.5 628.5 L301.0 628.5 L301.5 628.5 L302.0 628.4 L302.5 628.4 L303.0 628.4 L303.5 628.4 L304.0 628.4 L304.5 628.3 L305.0 628.4 L305.5 628.5 L306.0 628.5 L306.5 628.5 L307.0 628.4 L307.5 628.4 L308.0 628.4 L308.5 628.5 L309.0 628.4 L309.5 628.2 L310.0 628.1 L310.5 628.1 L311.0 628.1 L311.5 628.0 L312.0 628.1 L312.5 628.3 L313.0 628.4 L313.5 628.3 L314.0 628.3 L314.5 628.2 L315.0 628.2 L315.5 628.2 L316.0 628.3 L316.5 628.3 L317.0 628.3 L317.5 628.2 L318.0 628.2 L318.5 628.2 L319.0 628.3 L319.5 628.2 L320.0 628.0 L320.5 627.9 L321.0 627.8 L321.5 627.6 L322.0 627.2 L322.5 626.5 L323.0 625.2 L323.5 623.4 L324.0 620.9 L324.5 618.7 L325.0 617.7 L325.5 618.7 L326.0 621.0 L326.5 623.3 L327.0 625.3 L327.5 626.6 L328.0 627.6 L328.5 627.7 L329.0 627.8 L329.5 627.6 L330.0 627.8 L330.5 627.9 L331.0 627.9 L331.5 627.8 L332.0 628.0 L332.5 628.2 L333.0 628.1 L333.5 628.0 L334.0 628.0 L334.5 628.1 L335.0 628.2 L335.5 628.0 L336.0 627.9 L336.5 627.8 L337.0 627.9 L337.5 627.9 L338.0 628.0 L338.5 628.0 L339.0 628.2 L339.5 628.0 L340.0 628.1 L340.5 627.9 L341.0 628.1 L341.5 627.9 L342.0 628.0 L342.5 627.9 L343.0 628.0 L343.5 628.0 L344.0 627.9 L344.5 627.8 L345.0 627.8 L345.5 627.7 L346.0 627.6 L346.5 627.6 L347.0 627.6 L347.5 627.6 L348.0 627.7 L348.5 627.8 L349.0 627.8 L349.5 627.8 L350.0 627.6 L350.5 627.6 L351.0 627.4 L351.5 627.4 L352.0 627.3 L352.5 627.4 L353.0 627.4 L353.5 627.3 L354.0 627.1 L354.5 626.8 L355.0 626.0 L355.5 624.3 L356.0 620.8 L356.5 615.5 L357.0 608.3 L357.5 601.2 L358.0 597.9 L358.5 601.2 L359.0 608.4 L359.5 615.5 L360.0 621.0 L360.5 624.3 L361.0 626.1 L361.5 626.8 L362.0 627.0 L362.5 627.0 L363.0 627.1 L363.5 627.1 L364.0 627.3 L364.5 627.4 L365.0 627.5 L365.5 627.3 L366.0 627.5 L366.5 627.7 L367.0 627.9 L367.5 627.7 L368.0 627.5 L368.5 627.4 L369.0 627.5 L369.5 627.5 L370.0 627.5 L370.5 627.5 L371.0 627.7 L371.5 627.9 L372.0 627.9 L372.5 627.7 L373.0 627.7 L373.5 627.6 L374.0 627.7 L374.5 627.4 L375.0 627.4 L375.5 627.4 L376.0 627.6 L376.5 627.5 L377.0 627.5 L377.5 627.4 L378.0 627.4 L378.5 627.2 L379.0 627.3 L379.5 627.3 L380.0 627.2 L380.5 627.2 L381.0 627.2 L381.5 627.4 L382.0 627.4 L382.5 627.6 L383.0 627.6 L383.5 627.6 L384.0 627.6 L384.5 627.5 L385.0 627.4 L385.5 627.4 L386.0 627.3 L386.5 627.4 L387.0 627.2 L387.5 627.2 L388.0 627.1 L388.5 627.1 L389.0 627.3 L389.5 627.1 L390.0 627.0 L390.5 626.7 L391.0 626.4 L391.5 625.9 L392.0 625.5 L392.5 624.1 L393.0 621.0 L393.5 614.6 L394.0 604.6 L394.5 591.2 L395.0 578.2 L395.5 571.9 L396.0 577.7 L396.5 590.6 L397.0 603.8 L397.5 613.9 L398.0 620.3 L398.5 623.6 L399.0 625.2 L399.5 625.7 L400.0 626.0 L400.5 626.1 L401.0 625.9 L401.5 625.9 L402.0 625.9 L402.5 625.7 L403.0 624.9 L403.5 623.1 L404.0 619.2 L404.5 612.7 L405.0 602.8 L405.5 591.5 L406.0 582.7 L406.5 582.9 L407.0 591.6 L407.5 603.0 L408.0 612.8 L408.5 619.5 L409.0 623.1 L409.5 624.7 L410.0 625.6 L410.5 626.1 L411.0 626.3 L411.5 626.4 L412.0 626.2 L412.5 626.0 L413.0 625.9 L413.5 626.0 L414.0 626.0 L414.5 626.0 L415.0 625.6 L415.5 625.3 L416.0 624.9 L416.5 624.6 L417.0 624.0 L417.5 622.2 L418.0 617.9 L418.5 609.0 L419.0 593.4 L419.5 570.6 L420.0 543.9 L420.5 523.8 L421.0 523.7 L421.5 544.3 L422.0 570.8 L422.5 593.6 L423.0 609.0 L423.5 617.7 L424.0 622.3 L424.5 624.2 L425.0 624.9 L425.5 625.1 L426.0 625.6 L426.5 625.8 L427.0 626.1 L427.5 625.9 L428.0 626.0 L428.5 626.0 L429.0 625.6 L429.5 625.0 L430.0 623.8 L430.5 623.2 L431.0 623.2 L431.5 624.0 L432.0 625.1 L432.5 625.9 L433.0 626.3 L433.5 626.2 L434.0 626.3 L434.5 626.5 L435.0 626.7 L435.5 626.5 L436.0 626.5 L436.5 626.5 L437.0 626.8 L437.5 626.6 L438.0 626.7 L438.5 626.7 L439.0 626.6 L439.5 626.4 L440.0 625.8 L440.5 625.1 L441.0 622.9 L441.5 620.0 L442.0 616.4 L442.5 613.5 L443.0 612.2 L443.5 613.6 L444.0 616.5 L444.5 619.8 L445.0 622.5 L445.5 624.2 L446.0 625.5 L446.5 626.1 L447.0 626.7 L447.5 626.6 L448.0 626.6 L448.5 626.5 L449.0 626.5 L449.5 626.5 L450.0 626.7 L450.5 627.0 L451.0 627.1 L451.5 627.0 L452.0 626.9 L452.5 626.9 L453.0 626.8 L453.5 626.7 L454.0 626.2 L454.5 626.2 L455.0 625.9 L455.5 626.0 L456.0 625.6 L456.5 624.7 L457.0 622.8 L457.5 619.7 L458.0 613.9 L458.5 605.7 L459.0 595.1 L459.5 585.4 L460.0 581.2 L460.5 585.8 L461.0 595.5 L461.5 605.8 L462.0 614.0 L462.5 619.7 L463.0 622.9 L463.5 624.4 L464.0 625.0 L464.5 625.3 L465.0 625.8 L465.5 626.1 L466.0 626.2 L466.5 626.3 L467.0 626.6 L467.5 626.7 L468.0 626.4 L468.5 626.1 L469.0 625.9 L469.5 626.0 L470.0 626.0 L470.5 626.1 L471.0 626.0 L471.5 626.2 L472.0 626.5 L472.5 626.7 L473.0 626.6 L473.5 626.4 L474.0 626.3 L474.5 626.3 L475.0 626.2 L475.5 626.0 L476.0 625.9 L476.5 626.2 L477.0 626.1 L477.5 626.2 L478.0 626.0 L478.5 626.3 L479.0 626.1 L479.5 625.9 L480.0 625.6 L480.5 625.6 L481.0 625.6 L481.5 625.8 L482.0 625.9 L482.5 625.9 L483.0 625.4 L483.5 624.8 L484.0 624.5 L484.5 624.7 L485.0 624.6 L485.5 624.1 L486.0 623.3 L486.5 622.6 L487.0 621.9 L487.5 621.0 L488.0 618.6 L488.5 613.6 L489.0 603.4 L489.5 585.0 L490.0 555.5 L490.5 515.1 L491.0 468.2 L491.5 426.2 L492.0 408.0 L492.5 426.2 L493.0 468.5 L493.5 515.5 L494.0 555.8 L494.5 584.5 L495.0 602.7 L495.5 612.4 L496.0 617.7 L496.5 620.0 L497.0 621.0 L497.5 620.8 L498.0 619.7 L498.5 617.6 L499.0 613.8 L499.5 608.1 L500.0 601.5 L500.5 596.8 L501.0 597.1 L501.5 601.9 L502.0 607.7 L502.5 612.5 L503.0 614.3 L503.5 613.7 L504.0 611.6 L504.5 611.1 L505.0 613.3 L505.5 617.3 L506.0 620.6 L506.5 622.9 L507.0 624.1 L507.5 625.0 L508.0 625.5 L508.5 625.7 L509.0 625.3 L509.5 625.2 L510.0 625.5 L510.5 625.7 L511.0 625.5 L511.5 625.5 L512.0 625.7 L512.5 625.5 L513.0 624.9 L513.5 624.0 L514.0 622.8 L514.5 620.6 L515.0 616.4 L515.5 611.1 L516.0 605.0 L516.5 600.7 L517.0 600.4 L517.5 605.0 L518.0 611.0 L518.5 616.8 L519.0 620.5 L519.5 623.0 L520.0 624.3 L520.5 624.9 L521.0 625.4 L521.5 624.9 L522.0 624.0 L522.5 621.9 L523.0 619.7 L523.5 618.2 L524.0 618.6 L524.5 620.3 L525.0 622.4 L525.5 623.8 L526.0 625.2 L526.5 625.6 L527.0 625.7 L527.5 625.3 L528.0 625.5 L528.5 626.0 L529.0 626.4 L529.5 626.6 L530.0 626.6 L530.5 626.7 L531.0 626.5 L531.5 626.1 L532.0 626.1 L532.5 626.4 L533.0 626.3 L533.5 626.1 L534.0 625.9 L534.5 626.1 L535.0 625.9 L535.5 625.8 L536.0 625.6 L536.5 625.6 L537.0 625.6 L537.5 626.1 L538.0 626.0 L538.5 626.3 L539.0 625.9 L539.5 626.0 L540.0 625.8 L540.5 626.1 L541.0 626.0 L541.5 625.5 L542.0 625.0 L542.5 624.4 L543.0 623.7 L543.5 621.3 L544.0 617.7 L544.5 612.7 L545.0 607.3 L545.5 603.3 L546.0 603.3 L546.5 607.6 L547.0 612.8 L547.5 617.3 L548.0 620.5 L548.5 623.2 L549.0 624.5 L549.5 625.4 L550.0 625.7 L550.5 625.8 L551.0 625.7 L551.5 625.8 L552.0 625.9 L552.5 626.0 L553.0 625.8 L553.5 625.7 L554.0 625.7 L554.5 625.3 L555.0 625.5 L555.5 625.9 L556.0 626.2 L556.5 626.2 L557.0 625.7 L557.5 625.5 L558.0 625.2 L558.5 625.6 L559.0 625.9 L559.5 625.8 L560.0 625.2 L560.5 624.7 L561.0 624.4 L561.5 624.0 L562.0 622.2 L562.5 619.1 L563.0 613.5 L563.5 605.7 L564.0 595.8 L564.5 586.5 L565.0 582.1 L565.5 585.9 L566.0 595.0 L566.5 605.1 L567.0 613.1 L567.5 618.6 L568.0 621.8 L568.5 623.5 L569.0 624.2 L569.5 624.2 L570.0 624.5 L570.5 624.8 L571.0 625.4 L571.5 625.6 L572.0 626.1 L572.5 625.7 L573.0 625.2 L573.5 624.7 L574.0 624.7 L574.5 624.7 L575.0 624.2 L575.5 622.8 L576.0 620.9 L576.5 619.1 L577.0 618.4 L577.5 619.4 L578.0 621.3 L578.5 623.0 L579.0 623.8 L579.5 624.4 L580.0 624.3 L580.5 624.5 L581.0 624.0 L581.5 623.6 L582.0 622.2 L582.5 619.9 L583.0 615.6 L583.5 609.1 L584.0 600.4 L584.5 589.7 L585.0 578.8 L585.5 571.0 L586.0 571.2 L586.5 578.8 L587.0 589.7 L587.5 600.6 L588.0 609.7 L588.5 616.6 L589.0 620.2 L589.5 622.4 L590.0 623.5 L590.5 624.6 L591.0 625.2 L591.5 624.9 L592.0 624.7 L592.5 624.4 L593.0 624.5 L593.5 625.0 L594.0 625.3 L594.5 625.8 L595.0 625.4 L595.5 625.6 L596.0 625.3 L596.5 625.0 L597.0 624.6 L597.5 624.0 L598.0 622.5 L598.5 620.5 L599.0 618.4 L599.5 617.6 L600.0 618.4 L600.5 620.0 L601.0 621.9 L601.5 623.3 L602.0 624.4 L602.5 625.1 L603.0 625.2 L603.5 624.9 L604.0 624.8 L604.5 625.1 L605.0 625.2 L605.5 625.2 L606.0 624.9 L606.5 625.2 L607.0 625.3 L607.5 625.1 L608.0 624.4 L608.5 623.7 L609.0 622.8 L609.5 621.3 L610.0 618.6 L610.5 616.0 L611.0 614.9 L611.5 616.2 L612.0 618.7 L612.5 620.9 L613.0 623.0 L613.5 624.2 L614.0 624.9 L614.5 624.8 L615.0 624.9 L615.5 624.9 L616.0 624.9 L616.5 624.0 L617.0 622.1 L617.5 619.7 L618.0 617.2 L618.5 615.2 L619.0 615.3 L619.5 617.3 L620.0 620.3 L620.5 622.1 L621.0 623.9 L621.5 624.6 L622.0 624.8 L622.5 624.5 L623.0 624.5 L623.5 624.6 L624.0 624.7 L624.5 623.7 L625.0 622.6 L625.5 621.0 L626.0 620.4 L626.5 620.1 L627.0 621.0 L627.5 622.2 L628.0 623.8 L628.5 624.5 L629.0 624.9 L629.5 625.1 L630.0 625.7 L630.5 625.6 L631.0 625.2 L631.5 625.2 L632.0 625.7 L632.5 625.9 L633.0 625.4 L633.5 625.3 L634.0 625.3 L634.5 625.8 L635.0 625.6 L635.5 625.9 L636.0 625.4 L636.5 625.5 L637.0 625.1 L637.5 625.3 L638.0 625.3 L638.5 625.7 L639.0 625.5 L639.5 625.1 L640.0 624.8 L640.5 625.0 L641.0 625.1 L641.5 624.9 L642.0 624.6 L642.5 624.7 L643.0 625.0 L643.5 624.4 L644.0 623.5 L644.5 622.1 L645.0 620.4 L645.5 618.6 L646.0 616.8 L646.5 617.2 L647.0 618.3 L647.5 620.5 L648.0 621.9 L648.5 622.9 L649.0 623.2 L649.5 622.9 L650.0 621.8 L650.5 619.7 L651.0 617.3 L651.5 614.6 L652.0 613.7 L652.5 614.8 L653.0 617.2 L653.5 619.8 L654.0 622.1 L654.5 623.7 L655.0 624.1 L655.5 624.3 L656.0 624.3 L656.5 624.4 L657.0 624.4 L657.5 624.4 L658.0 624.6 L658.5 624.6 L659.0 624.5 L659.5 624.4 L660.0 623.9 L660.5 624.2 L661.0 624.1 L661.5 624.4 L662.0 624.1 L662.5 624.1 L663.0 624.3 L663.5 625.0 L664.0 624.9 L664.5 625.3 L665.0 625.3 L665.5 625.7 L666.0 625.7 L666.5 625.2 L667.0 625.3 L667.5 625.1 L668.0 625.6 L668.5 625.5 L669.0 625.3 L669.5 625.2 L670.0 625.2 L670.5 625.1 L671.0 624.8 L671.5 624.6 L672.0 624.7 L672.5 624.9 L673.0 624.5 L673.5 624.8 L674.0 624.0 L674.5 623.8 L675.0 623.4 L675.5 622.9 L676.0 622.3 L676.5 622.0 L677.0 622.3 L677.5 622.5 L678.0 622.6 L678.5 622.7 L679.0 623.2 L679.5 623.1 L680.0 622.7 L680.5 620.5 L681.0 617.9 L681.5 613.3 L682.0 607.9 L682.5 600.8 L683.0 593.2 L683.5 586.3 L684.0 581.7 L684.5 581.8 L685.0 586.4 L685.5 593.2 L686.0 601.2 L686.5 608.1 L687.0 613.9 L687.5 617.8 L688.0 620.3 L688.5 622.4 L689.0 623.2 L689.5 623.8 L690.0 624.0 L690.5 624.1 L691.0 624.1 L691.5 624.2 L692.0 624.0 L692.5 624.5 L693.0 624.2 L693.5 624.6 L694.0 624.8 L694.5 625.0 L695.0 625.1 L695.5 624.6 L696.0 624.3 L696.5 623.9 L697.0 623.8 L697.5 624.2 L698.0 624.5 L698.5 624.7 L699.0 624.9 L699.5 624.7 L700.0 624.5 L700.5 624.3 L701.0 624.3 L701.5 624.1 L702.0 623.9 L702.5 624.0 L703.0 624.2 L703.5 624.1 L704.0 624.4 L704.5 624.5 L705.0 624.5 L705.5 624.5 L706.0 624.4 L706.5 624.3 L707.0 624.4 L707.5 624.1 L708.0 623.8 L708.5 622.8 L709.0 622.4 L709.5 622.0 L710.0 621.2 L710.5 619.6 L711.0 617.6 L711.5 615.6 L712.0 614.6 L712.5 614.3 L713.0 615.0 L713.5 616.1 L714.0 617.6 L714.5 619.5 L715.0 621.0 L715.5 622.1 L716.0 622.9 L716.5 623.1 L717.0 623.7 L717.5 623.5 L718.0 623.6 L718.5 623.0 L719.0 622.6 L719.5 621.5 L720.0 620.5 L720.5 619.0 L721.0 617.4 L721.5 616.1 L722.0 615.8 L722.5 617.1 L723.0 618.8 L723.5 620.3 L724.0 620.9 L724.5 620.8 L725.0 620.0 L725.5 618.9 L726.0 618.1 L726.5 617.6 L727.0 618.1 L727.5 618.5 L728.0 619.9 L728.5 621.3 L729.0 622.8 L729.5 623.6 L730.0 624.0 L730.5 624.2 L731.0 624.0 L731.5 623.9 L732.0 623.8 L732.5 624.0 L733.0 624.4 L733.5 624.8 L734.0 625.0 L734.5 624.9 L735.0 624.4 L735.5 623.9 L736.0 623.3 L736.5 623.2 L737.0 622.9 L737.5 622.6 L738.0 622.7 L738.5 623.3 L739.0 623.7 L739.5 624.3 L740.0 624.0 L740.5 624.2 L741.0 623.9 L741.5 624.5 L742.0 625.0 L742.5 625.4 L743.0 625.1 L743.5 625.1 L744.0 624.8 L744.5 624.7 L745.0 624.7 L745.5 624.9 L746.0 625.1 L746.5 624.9 L747.0 624.9 L747.5 624.5 L748.0 624.2 L748.5 623.5 L749.0 623.3 L749.5 622.6 L750.0 622.4 L750.5 622.4 L751.0 622.8 L751.5 622.9 L752.0 623.4 L752.5 623.7 L753.0 624.4 L753.5 624.3 L754.0 624.4 L754.5 623.9 L755.0 624.4 L755.5 624.6 L756.0 624.6 L756.5 623.9 L757.0 623.6 L757.5 623.7 L758.0 623.8 L758.5 623.7 L759.0 623.1 L759.5 622.1 L760.0 621.5 L760.5 621.0 L761.0 621.7 L761.5 622.4 L762.0 623.4 L762.5 623.5 L763.0 624.1 L763.5 624.4 L764.0 625.3 L764.5 624.9 L765.0 624.5 L765.5 624.0 L766.0 623.9 L766.5 624.3 L767.0 624.6 L767.5 624.9 L768.0 624.7 L768.5 624.3 L769.0 623.8 L769.5 623.1 L770.0 622.6 L770.5 623.0 L771.0 623.3 L771.5 623.8 L772.0 623.8 L772.5 623.9 L773.0 624.0 L773.5 624.0 L774.0 624.5 L774.5 624.6 L775.0 624.7 L775.5 624.8 L776.0 624.9 L776.5 625.2 L777.0 624.9 L777.5 624.5 L778.0 624.0 L778.5 623.5 L779.0 623.6 L779.5 623.0 L780.0 622.5 L780.5 621.8 L781.0 621.3 L781.5 621.4 L782.0 621.4 L782.5 622.4 L783.0 622.5 L783.5 623.0 L784.0 622.9 L784.5 623.4 L785.0 624.0 L785.5 623.5 L786.0 622.7 L786.5 621.4 L787.0 620.7 L787.5 619.2 L788.0 617.9 L788.5 616.8 L789.0 617.2 L789.5 617.9 L790.0 619.5 L790.5 620.5 L791.0 621.6 L791.5 622.4 L792.0 623.1 L792.5 623.3 L793.0 623.1 L793.5 622.4 L794.0 622.1 L794.5 621.2 L795.0 620.5 L795.5 619.4 L796.0 618.5 L796.5 618.3 L797.0 618.8 L797.5 620.2 L798.0 621.1 L798.5 622.5 L799.0 622.8 L799.5 623.5 L800.0 623.5 L800.5 624.3 L801.0 624.6 L801.5 624.8 L802.0 624.8 L802.5 624.7 L803.0 624.8 L803.5 624.5 L804.0 624.9 L804.5 625.1 L805.0 625.2 L805.5 624.9 L806.0 624.6 L806.5 624.3 L807.0 624.6 L807.5 624.9 L808.0 625.2 L808.5 624.8 L809.0 624.6 L809.5 624.6 L810.0 624.8 L810.5 624.5 L811.0 624.2 L811.5 624.1 L812.0 623.9 L812.5 623.2 L813.0 622.1 L813.5 621.7 L814.0 621.4 L814.5 620.7 L815.0 620.1 L815.5 619.9 L816.0 620.6 L816.5 621.5 L817.0 622.1 L817.5 622.6 L818.0 622.7 L818.5 623.3 L819.0 623.3 L819.5 622.9 L820.0 622.5 L820.5 621.6 L821.0 621.5 L821.5 621.5 L822.0 622.3 L822.5 623.1 L823.0 623.2 L823.5 623.4 L824.0 623.7 L824.5 623.8 L825.0 624.1 L825.5 624.0 L826.0 624.1 L826.5 624.2 L827.0 624.5 L827.5 625.0 L828.0 625.1 L828.5 625.0 L829.0 624.8 L829.5 624.6 L830.0 624.6 L830.5 624.6 L831.0 625.0 L831.5 625.2 L832.0 625.2 L832.5 625.1 L833.0 625.0 L833.5 624.9 L834.0 624.7 L834.5 624.7 L835.0 625.0 L835.5 625.4 L836.0 625.3 L836.5 625.3 L837.0 625.2 L837.5 625.2 L838.0 624.9 L838.5 624.7 L839.0 624.7 L839.5 624.4 L840.0 624.5 L840.5 624.6 L841.0 625.0 L841.5 625.1 L842.0 624.7 L842.5 624.5 L843.0 624.4 L843.5 624.6 L844.0 624.5 L844.5 624.6 L845.0 624.8 L845.5 624.5 L846.0 624.3 L846.5 624.0 L847.0 623.8 L847.5 623.2 L848.0 622.7 L848.5 621.6 L849.0 620.6 L849.5 618.8 L850.0 617.8 L850.5 616.5 L851.0 615.2 L851.5 613.4 L852.0 612.2 L852.5 611.8 L853.0 612.6 L853.5 613.5 L854.0 614.9 L854.5 616.5 L855.0 618.0 L855.5 619.3 L856.0 620.6 L856.5 621.3 L857.0 622.2 L857.5 622.3 L858.0 622.9 L858.5 622.5 L859.0 622.6 L859.5 621.8 L860.0 621.1 L860.5 619.8 L861.0 618.8 L861.5 617.8 L862.0 617.0 L862.5 616.2 L863.0 616.3 L863.5 616.2 L864.0 616.6 L864.5 617.1 L865.0 618.3 L865.5 619.8 L866.0 621.0 L866.5 621.5 L867.0 622.2 L867.5 622.8 L868.0 623.3 L868.5 623.2 L869.0 623.8 L869.5 624.3 L870.0 624.8 L870.5 624.6 L871.0 624.5 L871.5 624.2 L872.0 624.4 L872.5 624.0 L873.0 624.0 L873.5 623.5 L874.0 623.3 L874.5 622.7 L875.0 621.9 L875.5 621.3 L876.0 620.9 L876.5 621.4 L877.0 621.7 L877.5 622.7" fill="none" stroke="#000" stroke-width="1.85" stroke-linejoin="round"/>
<g font-family="'Liberation Serif',serif" font-weight="bold" font-style="italic" font-size="51" fill="#3333cc">
<text transform="translate(175.4,152) scale(0.985,1.0) skewX(-5.5)">Form I</text>
<text transform="translate(175.6,446) scale(0.985,1.0) skewX(-5.5)">Form II</text>
</g>
<text transform="translate(142.9,436.0) rotate(-90) scale(1,1.07)" font-family="'Liberation Sans',sans-serif" font-size="27.5" fill="#000">Intensity</text>
<g font-family="'Liberation Sans',sans-serif" font-weight="bold" font-size="33" fill="#000" text-anchor="middle">
<text transform="translate(163.5,668) scale(1,1.045)">2</text>
<text transform="translate(281.9,668) scale(1,1.045)">10</text>
<text transform="translate(432.2,667.2) scale(1,1.045)">20</text>
<text transform="translate(579.4,667.8) scale(1,1.045)">30</text>
<text transform="translate(727.1,668) scale(1,1.045)">40</text>
<text transform="translate(876.5,668) scale(1,1.045)">50</text>
</g>
<text transform="translate(474.2,697.1) scale(1,1.05)" font-family="'Liberation Sans',sans-serif" font-size="39" fill="#000">°2</text>
<text transform="translate(512.3,697.1) scale(0.955,1.025)" font-family="'Liberation Serif',serif" font-size="40.5" fill="#000">Θ</text>
<!-- SEM image 1 -->
<rect x="647" y="94" width="247" height="210.9" fill="#000"/>
<g clip-path="url(#c1)"><defs><linearGradient id="bg1" x1="0" y1="0" x2="0.25" y2="1"><stop offset="0" stop-color="#4a4a4a"/><stop offset="0.45" stop-color="#383838"/><stop offset="0.8" stop-color="#1c1c1c"/><stop offset="1" stop-color="#222222"/></linearGradient><radialGradient id="bg1b" cx="0.97" cy="0.9" r="0.5"><stop offset="0" stop-color="#505050" stop-opacity="1"/><stop offset="1" stop-color="#484848" stop-opacity="0"/></radialGradient></defs>
<g filter="url(#soft)">
<rect x="645" y="92" width="251" height="215" fill="url(#bg1)"/>
<rect x="645" y="92" width="251" height="215" fill="url(#bg1b)"/>
<polygon points="710.0,112.0 714.0,108.0 725.2,103.5 735.9,101.0 752.8,103.9 762.1,107.2 769.0,112.6 771.8,118.9 772.8,123.2 770.2,128.2 764.0,134.5 756.5,139.5 746.5,142.0 740.2,144.2 730.2,144.5 722.8,143.2 717.8,138.2 714.0,130.8 711.5,120.8" fill="#7e7e7e"/>
<polygon points="711.5,112.0 714.0,108.2 725.2,103.9 735.9,101.4 752.8,104.1 762.1,107.6 769.0,113.0 771.2,118.9 767.8,120.8 751.5,125.5 739.0,124.8 725.2,122.0 719.0,117.0" fill="#bababa"/>
<polygon points="725.2,103.5 735.9,101.0 752.8,103.9 761.5,107.6 750.2,106.0 736.5,104.5 727.8,104.8" fill="#e8e8e8"/>
<polygon points="736.5,140.1 740.9,135.1 747.8,137.6 745.2,141.4 739.0,142.6" fill="#373737"/>
<polygon points="730.2,143.5 736.5,137.2 740.5,135.1 736.8,140.1 734.6,143.5" fill="#b9b9b9"/>
<polygon points="650.0,126.0 655.9,124.8 662.8,127.0 671.5,132.6 677.8,139.5 680.9,144.5 680.6,150.1 666.5,148.2 650.0,150.8" fill="#6e6e6e"/>
<polygon points="656.5,125.2 662.8,127.0 671.5,132.6 677.8,139.5 680.9,144.5 680.6,149.8 669.0,148.0 667.1,147.0 660.2,133.2" fill="#e4e4e4"/>
<polygon points="654.0,150.5 659.0,140.1 665.9,148.2" fill="#b8b8b8"/>
<polygon points="650.0,153.2 666.5,148.5 681.5,150.8 683.8,154.5 681.5,190.8 677.8,202.0 666.5,203.9 651.5,203.9 650.0,203.2" fill="#696969"/>
<polygon points="666.5,148.5 681.5,150.8 683.8,154.5 681.5,190.8 677.8,202.0 675.2,202.0 675.9,189.5 674.0,167.0 675.2,157.0" fill="#dedede"/>
<polygon points="650.0,180.0 653.4,180.0 655.2,191.2 657.8,196.2 655.9,202.5 651.5,203.1 650.0,202.5" fill="#bebebe"/>
<polygon points="657.8,196.2 662.8,193.8 669.0,180.0 675.2,180.0 674.6,198.8 669.0,200.0 659.0,201.2" fill="#aaaaaa"/>
<polygon points="651.5,198.8 659.0,197.5 675.2,196.2 677.5,200.6 669.0,203.1 655.2,203.8 650.2,202.5" fill="#c8c8c8"/>
<polygon points="665.2,206.9 672.8,202.5 686.5,202.5 694.0,216.2 706.5,240.0 710.9,251.2 704.0,258.8 691.5,261.2 685.2,258.8 675.2,240.0 667.8,221.2" fill="#929292"/>
<polygon points="665.2,206.9 680.2,209.4 686.5,230.0 686.5,246.2 685.2,258.8 675.2,240.0 667.8,221.2" fill="#727272"/>
<polygon points="665.2,206.9 672.8,202.5 686.5,202.5 689.0,208.8 680.2,209.4" fill="#b4b4b4"/>
<polygon points="686.5,246.2 696.5,245.0 706.5,240.0 710.9,251.2 704.0,258.8 691.5,261.2 685.9,258.8" fill="#878787"/>
<polygon points="721.5,192.5 731.5,195.6 735.2,201.9 733.4,212.5 730.2,211.2" fill="#d7d7d7"/>
<polygon points="686.5,198.8 690.2,188.8 697.8,182.5 709.0,180.6 716.5,185.0 724.0,193.8 731.5,211.2 739.0,230.0 740.9,236.2 735.9,248.8 724.0,250.0 714.0,242.5 704.0,227.5 694.0,212.5 687.8,203.8" fill="#c8c8c8"/>
<polygon points="690.2,188.8 697.8,182.5 709.0,180.6 716.5,185.0 719.6,189.0 709.0,189.4 697.8,192.5 694.0,191.5" fill="#e4e4e4"/>
<polygon points="697.8,192.5 709.0,189.4 719.0,188.8 724.0,193.8 731.5,211.2 739.0,230.0 735.2,245.0 722.8,247.5 714.0,232.5 702.8,213.8 699.0,206.2" fill="#808080"/>
<polygon points="687.1,201.2 690.2,196.9 695.2,195.6 700.2,198.8 702.1,204.4 699.0,208.1 694.0,206.9 689.0,203.8" fill="#d8d8d8"/>
<polygon points="732.1,208.8 736.5,191.2 746.5,181.9 754.0,186.2 772.0,205.0 781.5,221.2 789.0,230.0 791.5,235.0 787.8,260.0 780.2,266.2 772.0,262.5 761.5,253.8 747.8,242.5 741.5,232.5 735.2,217.5" fill="#828282"/>
<polygon points="733.4,212.5 736.5,191.2 746.5,181.9 754.0,186.2 772.0,205.0 782.8,222.5 774.0,223.1 762.8,217.5 752.8,213.8 739.0,216.2" fill="#e4e4e4"/>
<polygon points="772.0,207.5 775.8,211.2 785.8,227.5 777.0,228.1 772.0,221.2" fill="#e1e1e1"/>
<polygon points="768.2,263.8 778.2,260.0 784.5,245.0 788.2,226.2 794.5,225.6 815.8,242.5 827.6,253.1 827.0,258.1 819.5,276.2 804.5,288.1 798.9,287.5 785.8,277.5 772.0,266.9" fill="#bcbcbc"/>
<polygon points="784.5,245.0 788.2,226.2 794.5,225.6 815.8,242.5 827.6,253.8 813.2,255.0 805.8,256.2 788.2,258.8 778.2,260.0" fill="#d4d4d4"/>
<polygon points="787.0,261.2 804.5,255.6 813.2,257.5 808.2,267.5 803.2,278.8 798.9,276.2 788.2,265.0" fill="#868686"/>
<polygon points="813.2,257.5 827.6,252.5 827.0,257.5 819.5,276.2 804.5,288.1 803.2,278.8 808.2,267.5" fill="#e2e2e2"/>
<polygon points="797.0,114.5 804.5,104.5 815.8,102.2 821.4,105.8 822.0,112.0 813.2,127.0 803.2,133.2 797.6,129.5 796.4,120.8" fill="#aaaaaa"/>
<polygon points="800.8,113.2 804.5,104.5 815.8,102.2 821.4,105.8 822.0,112.0 817.0,117.0 809.5,115.8" fill="#d0d0d0"/>
<polygon points="839.5,99.5 848.2,97.6 867.0,97.2 872.0,103.2 876.4,113.2 879.5,133.2 878.2,139.5 875.8,144.5 847.0,117.0" fill="#b2b2b2"/>
<polygon points="847.0,104.5 853.2,100.8 865.1,102.6 864.5,109.5 852.0,112.0" fill="#707070"/>
<polygon points="842.0,101.4 848.2,97.6 867.0,97.2 872.0,103.2 876.4,113.2 872.0,112.0 865.8,102.0 853.2,100.1 847.0,103.9" fill="#dedede"/>
<polygon points="859.5,120.8 870.8,113.2 878.2,133.2 874.5,141.4" fill="#969696"/>
<polygon points="875.8,142.0 892.0,133.9 892.0,153.9 880.8,150.8" fill="#cdcdcd"/>
<polygon points="880.8,152.0 892.0,154.5 892.0,165.8 887.0,165.8" fill="#555555"/>
<polygon points="852.0,203.8 867.0,178.8 875.8,172.5 892.0,170.0 892.0,212.5 875.8,237.5 859.5,248.8 847.0,242.5 830.8,236.9 844.5,226.2 850.8,220.0" fill="#bebebe"/>
<polygon points="852.0,203.8 864.5,183.8 872.0,172.5 882.0,195.0 887.0,207.5 882.0,215.0 847.0,238.8 832.0,236.2 844.5,226.2 850.8,220.0" fill="#5c5c5c"/>
<polygon points="830.8,236.9 847.0,242.5 858.2,248.8 860.8,258.8 852.0,261.9 840.8,261.2 837.0,255.0" fill="#c8c8c8"/>
<polygon points="834.5,241.2 847.0,246.2 857.0,258.1 840.8,259.4" fill="#646464"/>
<polygon points="799.5,145.8 836.4,97.2 840.1,99.5 880.8,154.5 881.8,160.1 875.8,168.2 864.5,190.8 858.2,202.0 852.0,212.0 842.0,204.5 822.0,182.0 802.0,154.5" fill="#c4c4c4"/>
<polygon points="836.4,97.2 840.1,99.8 854.5,120.8 857.0,154.5 853.2,188.0 852.0,204.5 830.8,189.5 828.2,179.5 824.5,154.5 825.8,120.8" fill="#b8b8b8"/>
<polygon points="840.1,99.8 880.8,154.5 881.8,160.1 875.8,168.2 864.5,190.8 858.2,202.0 853.2,209.5 853.2,188.0 857.0,154.5 854.5,120.8" fill="#d0d0d0"/>
<polygon points="799.5,145.8 802.0,154.5 822.0,182.0 842.0,204.5 852.0,212.0 853.2,209.5 842.0,200.8 823.2,179.5 803.2,153.2 801.4,145.1" fill="#ebebeb"/>
<polygon points="802.6,200.0 812.0,181.2 822.0,180.0 827.6,187.5 808.2,203.8 803.9,204.4" fill="#bababa"/>
<polygon points="803.9,207.5 808.2,203.8 840.1,182.5 846.4,186.2 847.6,193.8 851.4,208.8 850.8,220.0 844.5,226.2 819.5,240.6 814.5,235.0 809.5,225.0 805.1,216.2" fill="#cdcdcd"/>
<polygon points="808.2,204.4 840.1,182.8 845.8,186.2 847.0,205.0 834.5,215.0 819.5,206.9 809.5,206.9" fill="#cacaca"/>
<polygon points="809.5,206.9 819.5,206.9 830.8,217.5 827.0,230.0 819.5,238.8 814.5,233.8 810.8,221.2" fill="#6a6a6a"/>
<polygon points="830.8,217.5 834.5,215.0 847.0,205.0 849.5,210.0 848.9,218.8 843.2,223.8 827.0,231.2" fill="#a5a5a5"/>
<polygon points="846.4,186.2 851.4,208.8 850.8,220.0 844.5,226.2 819.5,240.6 818.9,238.8 843.2,223.8 848.9,218.8 849.5,209.4 845.1,187.5" fill="#f0f0f0"/>
</g>
<rect x="675.9" y="290" width="18.7" height="6.9" fill="#000"/>
<rect x="876.4" y="288.5" width="16" height="6.3" rx="1.5" fill="#000"/>
<rect x="773" y="280.7" width="28.6" height="2.4" fill="#f4f4f4"/>
<g font-family="'Liberation Mono',monospace" fill="#e8e8e8"><text x="732.3" y="296.4" font-size="8.6" textLength="36" lengthAdjust="spacingAndGlyphs">3.00 kV</text><text x="776.2" y="291.3" font-size="7.4" textLength="23" lengthAdjust="spacingAndGlyphs">100µm</text><text x="816" y="294.8" font-size="8.6" textLength="28.5" lengthAdjust="spacingAndGlyphs">FORM I</text></g></g>
<!-- SEM image 2 -->
<rect x="647" y="381" width="247" height="210.9" fill="#000"/>
<g clip-path="url(#c2)"><g filter="url(#soft)">
<rect x="645" y="379" width="251" height="215" fill="#0a0a0a"/>
<polygon points="879.5,381.8 892.0,381.8 892.0,463.0 884.5,453.0 878.2,443.0 879.5,411.8" fill="#6c6c6c"/>
<polygon points="882.0,415.5 892.0,409.2 892.0,463.0 884.5,453.0 879.5,440.5" fill="#464646"/>
<polygon points="884.5,463.5 892.0,463.5 892.0,497.2 884.5,484.8" fill="#424242"/>
<polygon points="767.0,381.8 800.8,381.8 802.0,393.0 787.0,394.2 772.0,404.2" fill="#525252"/>
<polygon points="767.0,383.0 778.2,383.2 780.8,390.5 779.5,395.5 772.0,403.0" fill="#a5a5a5"/>
<polygon points="680.2,390.5 685.9,383.2 767.1,383.2 772.0,387.4 775.2,394.2 767.1,406.8 764.0,419.2 744.0,433.0 740.2,434.2 739.0,425.5 702.8,392.4 695.2,392.0 685.2,401.8 681.5,396.8" fill="#6c6c6c"/>
<polygon points="740.2,421.8 775.2,394.2 772.8,403.0 767.1,406.8 764.0,419.2 744.0,433.0 740.2,434.2 739.6,426.8" fill="#4e4e4e"/>
<polygon points="824.5,396.8 841.4,381.8 878.9,381.8 879.5,411.8 877.0,443.0 873.2,445.5 868.2,443.0 864.5,443.0 847.0,431.8 822.0,409.2" fill="#a5a5a5"/>
<polygon points="822.0,407.4 867.0,404.2 868.2,443.0 864.5,443.0 847.0,431.8" fill="#686868"/>
<polygon points="867.0,404.2 878.2,400.5 879.2,381.8 879.8,411.8 877.0,443.0 873.2,445.5 868.2,440.5" fill="#bebebe"/>
<polygon points="749.4,445.0 752.5,438.8 766.2,422.5 769.0,418.5 772.5,427.5 777.5,448.8 787.5,462.5 814.5,489.8 807.5,490.0 772.5,488.8 762.5,470.0 751.2,448.8" fill="#8c8c8c"/>
<polygon points="749.4,445.0 752.5,438.8 766.9,421.9 768.5,423.8 754.8,440.0 752.8,445.0 765.0,470.0 763.1,471.5 751.2,448.8" fill="#b2b2b2"/>
<polygon points="772.0,469.8 787.0,469.8 803.2,482.2 813.2,489.8 800.8,489.8 779.5,488.5 772.0,482.2" fill="#969696"/>
<polygon points="739.0,472.0 764.0,471.6 772.0,473.5 776.5,478.5 776.5,483.5 741.5,480.0" fill="#b0b0b0"/>
<polygon points="740.2,476.6 776.5,479.8 776.5,483.5 741.5,480.0" fill="#787878"/>
<polygon points="805.8,522.2 819.5,526.0 822.0,541.0 828.2,551.0 809.5,553.5 792.0,547.2 803.2,528.5" fill="#4a4a4a"/>
<polygon points="764.5,546.0 792.0,546.0 809.5,553.5 797.0,566.0 764.5,566.0" fill="#343434"/>
<polygon points="772.0,546.9 790.8,546.9 807.0,545.0 809.5,552.5 790.8,561.2 772.0,557.5" fill="#464646"/>
<polygon points="757.0,557.5 790.8,561.2 808.2,557.5 813.2,570.0 803.2,578.8 788.2,582.5 757.0,572.5" fill="#2c2c2c"/>
<polygon points="824.5,552.5 837.0,556.2 853.2,562.5 859.5,566.2 867.0,570.0 858.2,575.0 842.0,570.0" fill="#303030"/>
<polygon points="859.5,573.8 892.0,561.2 892.0,580.0 875.8,577.5" fill="#2a2a2a"/>
<polygon points="736.5,543.8 756.5,545.0 772.0,548.8 772.0,570.0 760.2,561.2 744.0,551.2" fill="#3a3a3a"/>
<polygon points="823.2,531.0 854.5,511.6 864.5,497.2 872.0,478.5 890.8,501.0 892.0,543.5 880.8,556.0 867.0,563.5 859.5,566.0 852.0,562.0 828.2,551.0 822.0,541.0" fill="#8c8c8c"/>
<polygon points="823.2,531.0 853.9,512.2 853.9,564.8 852.0,562.0 828.2,551.0 822.0,541.0" fill="#606060"/>
<polygon points="735.2,532.2 742.8,522.2 772.0,484.8 781.5,486.0 801.5,489.8 812.8,491.0 819.0,502.2 814.0,513.5 807.8,518.5 802.8,528.5 791.5,543.5 779.0,546.0 772.0,544.8 741.5,543.5 736.5,538.5" fill="#b0b0b0"/>
<polygon points="735.2,532.2 772.0,484.8 776.5,487.2 772.0,503.5 764.0,507.2 744.0,533.5 739.0,541.0" fill="#888888"/>
<polygon points="800.8,489.8 813.2,491.0 819.5,502.2 814.5,513.5 808.2,518.5 803.2,507.2 799.5,498.5" fill="#969696"/>
<polygon points="650.0,433.0 658.4,431.1 658.4,490.5 650.0,490.5" fill="#464646"/>
<polygon points="650.0,466.0 659.0,466.0 659.6,513.5 651.5,509.8 650.0,503.5" fill="#3c3c3c"/>
<polygon points="650.0,526.0 662.8,526.0 672.8,539.8 685.2,551.0 697.8,556.0 709.0,559.1 721.5,548.5 731.5,527.2 739.0,518.5 741.5,521.0 734.0,536.0 724.0,551.0 709.0,561.0 696.5,558.5 681.5,551.0 669.0,541.0 650.0,531.0" fill="#404040"/>
<polygon points="662.8,526.0 687.8,531.0 697.8,536.0 700.9,543.5 709.0,548.5 714.6,544.1 715.2,542.2 731.5,527.2 721.5,548.5 709.0,559.1 697.8,556.0 685.2,551.0 672.8,539.8" fill="#7a7a7a"/>
<polygon points="659.0,428.0 664.0,419.2 674.0,408.0 677.8,408.0 695.2,392.0 696.5,403.0 693.4,428.0 685.2,435.5 675.2,433.0" fill="#7e7e7e"/>
<polygon points="658.4,433.0 675.2,433.0 685.2,435.5 686.5,478.0 687.8,531.0 662.8,526.0 659.6,515.5" fill="#7c7c7c"/>
<polygon points="685.2,435.5 693.4,428.0 700.2,440.5 702.8,493.5 699.0,515.5 697.8,536.0 687.8,531.0 686.5,503.0" fill="#8a8a8a"/>
<polygon points="695.2,392.0 702.8,392.4 739.0,425.5 740.0,430.5 740.9,474.0 741.2,478.5 740.9,516.0 731.5,527.2 715.2,542.2 714.6,544.1 709.0,548.5 700.9,543.5 697.8,536.0 699.0,516.0 702.8,493.5 700.9,474.0 700.2,440.5 693.4,428.0 696.5,403.0" fill="#b2b2b2"/>
<polygon points="700.9,543.5 707.1,529.8 714.6,544.1 709.0,548.5" fill="#bababa"/>
<polygon points="699.0,541.0 705.9,528.5 707.1,529.8 701.8,542.2 702.8,547.2 700.9,546.0" fill="#5a5a5a"/>
<polygon points="776.2,400.0 781.2,395.0 798.8,393.8 810.0,396.2 817.5,401.2 848.8,428.8 860.0,436.2 873.2,446.8 875.8,453.0 884.5,466.0 882.0,473.5 872.0,477.2 864.5,497.2 858.2,508.5 849.5,511.0 839.5,506.0 814.5,489.8 797.0,476.0 787.5,462.5 764.4,448.8 765.0,440.0 768.8,418.8 771.2,408.8" fill="#c2c2c2"/>
<polygon points="776.2,400.0 781.2,395.0 798.8,393.8 810.0,396.2 817.5,401.2 813.8,402.5 777.5,402.5" fill="#b6b6b6"/>
<polygon points="777.5,402.5 813.8,402.5 817.5,403.8 810.0,427.5 800.0,453.8 787.5,460.0 781.2,446.2 771.2,415.0 773.8,405.0" fill="#8c8c8c"/>
<polygon points="771.2,415.0 781.2,446.2 787.5,460.0 764.4,448.8 765.0,440.0 768.8,418.8" fill="#a2a2a2"/>
<polygon points="848.8,428.8 860.0,436.2 873.2,446.8 875.8,453.0 874.5,465.5 865.0,476.2 852.5,472.5 847.5,460.0 843.8,452.5" fill="#acacac"/>
<polygon points="850.0,431.2 860.0,433.8 857.5,440.0 852.5,438.8" fill="#969696"/>
<polygon points="852.5,446.2 865.0,455.0 866.2,465.0 862.5,470.0 857.5,460.0 850.0,455.0" fill="#969696"/>
<polygon points="853.1,435.0 856.9,433.8 860.0,440.0 858.8,448.8 855.6,443.8" fill="#606060"/>
<polygon points="860.0,450.0 863.1,448.8 866.2,460.0 865.0,467.5 861.9,460.0" fill="#646464"/>
<polygon points="850.0,460.0 852.5,458.8 856.2,470.0 854.4,472.5" fill="#6e6e6e"/>
<polygon points="764.4,448.8 787.5,460.0 815.0,482.5 839.5,504.4 849.5,509.4 858.2,506.9 858.2,508.5 849.5,511.0 839.5,506.0 814.5,489.8 797.0,476.0 787.5,462.5 765.0,451.2" fill="#c4c4c4"/>
<polygon points="764.4,449.8 787.5,461.5 815.0,484.4 839.5,505.2 849.5,510.2 858.2,507.8 858.2,508.5 849.5,511.0 839.5,506.0 814.5,489.8 797.0,476.0 787.5,462.5 765.0,451.2" fill="#e2e2e2"/>
<polygon points="873.2,446.8 878.2,442.4 884.5,453.0 885.8,459.2 880.8,474.0 878.2,478.0 870.8,474.0 875.8,453.0" fill="#aaaaaa"/>
</g>
<rect x="876" y="577" width="16" height="6.5" rx="2" fill="#000" opacity="0.8"/>
<rect x="776.3" y="569.9" width="20.8" height="2.1" fill="#f4f4f4"/>
<g font-family="'Liberation Mono',monospace" fill="#e8e8e8"><text x="734" y="585.7" font-size="8.4" textLength="33.5" lengthAdjust="spacingAndGlyphs">3.00 kV</text><text x="776.2" y="580.6" font-size="7.4" textLength="18.5" lengthAdjust="spacingAndGlyphs">10µm</text><text x="816" y="584.4" font-size="8.4" textLength="32.5" lengthAdjust="spacingAndGlyphs">FORM II</text></g></g>
</svg>
<p class="cite" id="cite">G.Nichols and C.S.Frampton (1998) J.Pharm.Sci. <u>87</u>(6), 684-693</p>
</body>
</html>
